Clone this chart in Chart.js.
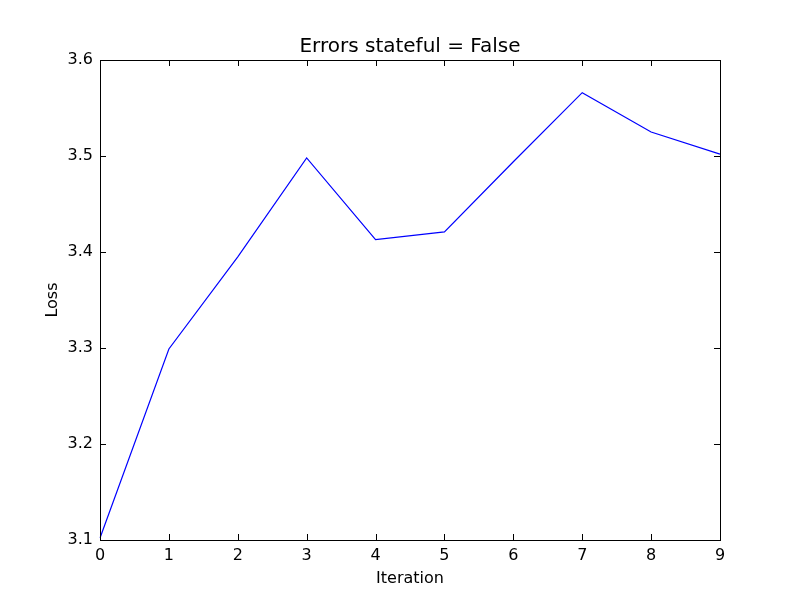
<!DOCTYPE html>
<html>
<head>
<meta charset="utf-8">
<script src="https://cdn.jsdelivr.net/npm/chart.js@4"></script>
<style>
  html, body { margin: 0; padding: 0; background: #fff; }
  #wrap { width: 800px; height: 600px; }
</style>
</head>
<body>
<div id="wrap"><canvas id="myChart" width="800" height="600"></canvas></div>
<script>
const iterations = ['0', '1', '2', '3', '4', '5', '6', '7', '8', '9'];
const loss = [3.102, 3.299, 3.395, 3.498, 3.413, 3.421, 3.494, 3.566, 3.525, 3.502];
const yTicks = [3.1, 3.2, 3.3, 3.4, 3.5, 3.6];

const font = 'DejaVu Sans';

// matplotlib style frame with ticks pointing inward on all four sides
const innerTicks = {
  id: 'innerTicks',
  afterDraw(chart) {
    const { ctx, chartArea: a, scales } = chart;
    const len = 6;
    ctx.save();
    ctx.strokeStyle = '#000';
    ctx.lineWidth = 1;
    ctx.beginPath();
    scales.x.ticks.forEach((t, i) => {
      const px = Math.round(scales.x.getPixelForTick(i)) + 0.5;
      ctx.moveTo(px, a.bottom); ctx.lineTo(px, a.bottom - len);
      ctx.moveTo(px, a.top); ctx.lineTo(px, a.top + len);
    });
    scales.y.ticks.forEach((t, i) => {
      const py = Math.round(scales.y.getPixelForTick(i)) + 0.5;
      ctx.moveTo(a.left, py); ctx.lineTo(a.left + len, py);
      ctx.moveTo(a.right, py); ctx.lineTo(a.right - len, py);
    });
    ctx.stroke();
    ctx.strokeRect(Math.round(a.left) + 0.5, Math.round(a.top) + 0.5,
      Math.round(a.right - a.left), Math.round(a.bottom - a.top));
    ctx.restore();
  }
};

new Chart(document.getElementById('myChart'), {
  type: 'line',
  data: {
    labels: iterations,
    datasets: [{
      data: loss,
      borderColor: '#0000ff',
      borderWidth: 1.2,
      pointRadius: 0,
      tension: 0,
      fill: false
    }]
  },
  options: {
    responsive: false,
    animation: false,
    // left padding 20 + empty right axis 80 keeps the title centred over the plot
    layout: { padding: { left: 20, right: 0, top: 0, bottom: 0 } },
    plugins: {
      legend: { display: false },
      tooltip: { enabled: false },
      title: {
        display: true,
        text: 'Errors stateful = False',
        color: '#000',
        font: { family: font, size: 20, weight: 'normal' },
        padding: { top: 35, bottom: 1 }
      }
    },
    scales: {
      x: {
        offset: false,
        grid: { display: false, drawTicks: false },
        border: { display: false },
        ticks: { color: '#000', padding: 6, maxRotation: 0, font: { family: font, size: 16 } },
        title: {
          display: true, text: 'Iteration', color: '#000',
          font: { family: font, size: 16 },
          padding: { top: 0, bottom: 12 }
        },
        afterFit(s) { s.height = 60; }
      },
      y: {
        min: yTicks[0],
        max: yTicks[yTicks.length - 1],
        grid: { display: false, drawTicks: false },
        border: { display: false },
        afterBuildTicks(s) { s.ticks = yTicks.map(v => ({ value: v })); },
        ticks: {
          color: '#000', padding: 7,
          font: { family: font, size: 16 },
          callback: v => Number(v).toFixed(1)
        },
        title: {
          display: true, text: 'Loss', color: '#000',
          font: { family: font, size: 16 },
          padding: { top: 23, bottom: 0 }
        },
        afterFit(s) { s.width = 80; }
      },
      yRight: {
        position: 'right',
        min: yTicks[0],
        max: yTicks[yTicks.length - 1],
        grid: { display: false, drawTicks: false },
        border: { display: false },
        ticks: { display: false },
        afterFit(s) { s.width = 80; }
      }
    }
  },
  plugins: [innerTicks]
});
</script>
</body>
</html>
